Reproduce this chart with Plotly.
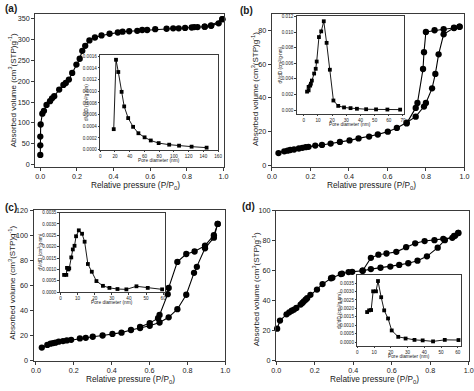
import plotly.graph_objects as go

W, H = 474, 391

# ---------------- data ----------------
# (a) main isotherm
a_ads_x = [0.0, 0.0, 0.0, 0.002, 0.011, 0.02, 0.034, 0.053, 0.064, 0.076, 0.103, 0.126, 0.139, 0.156, 0.174,
           0.197, 0.215, 0.229, 0.245, 0.268, 0.298, 0.334, 0.378, 0.423, 0.449, 0.485, 0.529, 0.556, 0.583,
           0.627, 0.689, 0.725, 0.755, 0.79, 0.826, 0.84, 0.858, 0.897, 0.932, 0.993]
a_ads_y = [23, 46, 67, 96, 122, 129, 143, 152, 159, 164, 180, 191, 196, 204, 220, 240, 254, 273, 285, 298,
           305, 310, 314, 317, 319, 320, 321, 323, 323, 325, 326, 327, 327, 328, 329, 330, 330, 331, 334, 349]
a_des_x = [0.993, 0.973, 0.932, 0.897]
a_des_y = [349, 339, 333, 331]
# (a) inset PSD
pa_x = [18.3, 21.4, 24.5, 29, 32.5, 37.9, 44.6, 51.8, 60.2, 68.6, 79.3, 93.6, 107, 124, 144.4]
pa_y = [0.00035, 0.00154, 0.00133, 0.00099, 0.00074, 0.00054, 0.00039, 0.00028, 0.00021, 0.000156,
        0.000111, 0.000084, 0.000067, 0.00005, 0.000033]

# (b) main isotherm
b_ads_x = [0.034, 0.064, 0.081, 0.095, 0.115, 0.14, 0.158, 0.175, 0.19, 0.225, 0.26, 0.305, 0.353, 0.403,
           0.45, 0.505, 0.55, 0.602, 0.649, 0.70, 0.747, 0.79, 0.80, 0.832, 0.849, 0.866, 0.892, 0.946, 0.975]
b_ads_y = [7.3, 8.3, 8.7, 9.1, 9.4, 10.0, 10.4, 10.8, 11.0, 11.7, 12.1, 12.9, 13.9, 14.8, 16.0, 17.1, 18.3,
           20.0, 22.2, 25.4, 28.9, 34.9, 37.0, 45.7, 54.3, 65.9, 77.8, 81.7, 82.3]
b_des_x = [0.975, 0.946, 0.892, 0.845, 0.80, 0.79, 0.785, 0.756, 0.747, 0.70]
b_des_y = [82.3, 81.5, 80.8, 80.2, 79.2, 67.2, 57.2, 37.0, 34.1, 24.9]
# (b) inset PSD
pb_x = [2.3, 3.4, 3.4, 4.5, 5, 5.7, 7.3, 8.4, 9.1, 10.7, 12.3, 14.1, 16.1, 18.4, 20.9, 24.3, 28.4, 33,
        37.5, 44, 51, 59, 68]
pb_y = [0.00236, 0.00252, 0.00297, 0.00313, 0.00338, 0.00378, 0.00468, 0.00529, 0.00622, 0.00936, 0.01009,
        0.01139, 0.00862, 0.00517, 0.00122, 0.00053, 0.00033, 0.00024, 0.00016, 0.0001, 0.00008, 0.00006,
        0.00005]

# (c) main isotherm
c_ads_x = [0.031, 0.06, 0.077, 0.091, 0.103, 0.12, 0.143, 0.163, 0.186, 0.232, 0.263, 0.30, 0.352, 0.404,
           0.452, 0.502, 0.55, 0.601, 0.653, 0.701, 0.747, 0.794, 0.835, 0.85, 0.893, 0.94, 0.96]
c_ads_y = [10.4, 12.5, 13.5, 14.0, 14.3, 15.1, 15.6, 16.1, 16.6, 17.7, 18.2, 19.0, 20.0, 21.3, 22.3, 24.4,
           26.0, 27.8, 30.4, 34.5, 41.0, 52.5, 70.0, 74.8, 89.6, 98.0, 109.0]
c_des_x = [0.96, 0.94, 0.893, 0.838, 0.794, 0.747, 0.701, 0.696, 0.653, 0.645, 0.601, 0.55]
c_des_y = [109.0, 100.0, 91.7, 87.0, 85.0, 78.7, 58.0, 53.0, 36.4, 33.8, 29.9, 26.8]
# (c) inset PSD
pc_x = [2.1, 3.4, 3.8, 4.6, 5.1, 6.3, 7.2, 8.2, 9.1, 10.7, 12.6, 14.1, 16, 18.3, 21, 24.8, 28.6, 33.3,
        38.5, 44.4, 51, 59.4]
pc_y = [0.00076, 0.00076, 0.00107, 0.00100, 0.00105, 0.00153, 0.00188, 0.00204, 0.00246, 0.00272, 0.00257,
        0.00222, 0.00124, 0.0009, 0.00049, 0.00028, 0.00019, 0.00014, 0.000125, 0.00026, 0.00019, 0.000125]

# (d) main isotherm
d_ads_x = [0.005, 0.02, 0.054, 0.068, 0.081, 0.093, 0.105, 0.127, 0.136, 0.144, 0.153, 0.161, 0.178, 0.212,
           0.241, 0.285, 0.292, 0.336, 0.342, 0.376, 0.395, 0.449, 0.492, 0.542, 0.593, 0.639, 0.686, 0.734,
           0.783, 0.839, 0.876, 0.924, 0.946]
d_ads_y = [21.3, 26.7, 30.9, 32.2, 33.3, 34.1, 35.2, 37.4, 38.5, 39.6, 40.7, 41.7, 43.9, 47.4, 51.1, 55.0,
           55.4, 57.8, 58.0, 59.1, 59.3, 60.0, 61.1, 62.0, 62.8, 63.9, 65.0, 66.7, 69.6, 75.4, 80.4, 83.3, 85.2]
d_des_x = [0.946, 0.929, 0.915, 0.868, 0.822, 0.771, 0.722, 0.675, 0.624, 0.573, 0.531, 0.492, 0.449]
d_des_y = [85.2, 83.3, 82.0, 81.3, 80.4, 79.8, 78.3, 75.7, 72.6, 71.5, 70.7, 68.6, 60.0]
# (d) inset PSD
pd_x = [5.8, 7, 8.2, 9.4, 11.1, 12.3, 14.2, 16, 18.3, 20.5, 24.4, 28.8, 34.1, 39, 45.2, 52.2, 60.4]
pd_y = [0.00178, 0.00188, 0.0019, 0.00301, 0.00301, 0.00362, 0.00266, 0.00188, 0.0014, 0.00069, 0.00031,
        0.00021, 0.00013, 0.0001, 0.00004, 0.00013, 0.00012]

# ---------------- styling helpers ----------------
FONT = "Liberation Sans, Arial, sans-serif"
INK = "#1a1a1a"
FRAME = "#3a3a3a"


def fx(px):
    return px / W


def fy(py):
    return 1 - py / H


fig = go.Figure()

layout = dict(
    width=W, height=H, margin=dict(l=0, r=0, t=0, b=0, pad=0),
    paper_bgcolor="white", plot_bgcolor="white", showlegend=False,
    font=dict(family=FONT, color=INK),
)


def add_axes(n, xdom, ydom, xrange, yrange, xdtick, ydtick, xfmt, yfmt, inset=False, ytickvals=None):
    sfx = "" if n == 1 else str(n)
    tick_font = 4.6 if inset else 7.2
    common = dict(showgrid=False, zeroline=False, showline=True, mirror=True,
                  linecolor=FRAME, linewidth=1 if inset else 1.3,
                  ticks="outside", ticklen=1.5 if inset else 3, tickwidth=0.8 if inset else 1,
                  tickcolor=FRAME, tickfont=dict(size=tick_font, family=FONT, color=INK))
    xa = dict(common, domain=[fx(xdom[0]), fx(xdom[1])], range=xrange, dtick=xdtick, tick0=0,
              tickformat=xfmt, anchor="y" + sfx)
    ya = dict(common, domain=[fy(ydom[1]), fy(ydom[0])], range=yrange, dtick=ydtick, tick0=0,
              tickformat=yfmt, anchor="x" + sfx)
    if ytickvals is not None:
        ya["tickmode"] = "array"
        ya["tickvals"] = ytickvals
        ya.pop("dtick")
    layout["xaxis" + sfx] = xa
    layout["yaxis" + sfx] = ya
    return "x" + sfx, "y" + sfx


def add_series(xs, ys, ax, inset=False):
    fig.add_trace(go.Scatter(
        x=xs, y=ys, xaxis=ax[0], yaxis=ax[1], mode="lines+markers",
        line=dict(color="black", width=0.9 if inset else 1.1),
        marker=dict(symbol="square" if inset else "circle", size=3.8 if inset else 6.3, color="black"),
        cliponaxis=False, hoverinfo="skip"))


# (a)
A = add_axes(1, (31, 223.3), (10, 166.4), [-0.027, 1.0], [-5, 362], 0.2, 50, ".1f", "d")
Ai = add_axes(2, (97.3, 217.7), (52.3, 149), [0, 160], [0, 0.00162], 20, 0.0002, "d", ".4f", inset=True)
# (b)
B = add_axes(3, (272.7, 469.3), (10, 166.5), [0, 1.0], [-0.8, 90], 0.2, 20, ".1f", "d")
Bi = add_axes(4, (298, 408), (12, 112.5), [-5, 71], [-0.0005, 0.0121], 10, 0.002, "d", ".3f", inset=True)
# (c)
C = add_axes(5, (29.3, 225), (211, 365), [-0.012, 1.0], [0, 120], 0.2, 20, ".1f", "d")
Ci = add_axes(6, (56, 163.3), (213.5, 295), [-0.4, 61], [0, 0.0035], 10, 0.0005, "d", ".4f", inset=True)
# (d)
D = add_axes(7, (277, 473.7), (211.7, 365), [0, 1.0], [0, 100], 0.2, 20, ".1f", "d")
Di = add_axes(8, (360, 466), (277, 350), [0, 62], [-0.00023, 0.0040], 10, None, "d", ".4f", inset=True,
              ytickvals=[0, 0.0005, 0.001, 0.0015, 0.002, 0.0025, 0.003, 0.0035])

for xs, ys in [(a_ads_x, a_ads_y), (a_des_x, a_des_y)]:
    add_series(xs, ys, A)
add_series(pa_x, pa_y, Ai, inset=True)
for xs, ys in [(b_ads_x, b_ads_y), (b_des_x, b_des_y)]:
    add_series(xs, ys, B)
add_series(pb_x, pb_y, Bi, inset=True)
for xs, ys in [(c_ads_x, c_ads_y), (c_des_x, c_des_y)]:
    add_series(xs, ys, C)
add_series(pc_x, pc_y, Ci, inset=True)
for xs, ys in [(d_ads_x, d_ads_y), (d_des_x, d_des_y)]:
    add_series(xs, ys, D)
add_series(pd_x, pd_y, Di, inset=True)

YT = "Absorbed volume (cm<sup>3</sup>(STP)g<sup>-1</sup>)"
XT = "Relative pressure (P/P<sub>0</sub>)"
IYT = "dV/dD (cm<sup>3</sup>/g·nm)"
IXT = "Pore diameter (nm)"

ann = []


def text(s, px, py, size, angle=0, bold=False, xanchor="center"):
    ann.append(dict(text=("<b>%s</b>" % s) if bold else s, x=fx(px), y=fy(py), xref="paper", yref="paper",
                    showarrow=False, textangle=angle, xanchor=xanchor, yanchor="middle",
                    font=dict(size=size, family=FONT, color=INK)))


# main titles
text(YT, 7.5, 88, 8, -90)
text(XT, 133, 185.8, 8.3)
text(YT, 255.5, 87, 8, -90)
text(XT, 374, 186, 8.3)
text(YT, 7.5, 285, 8, -90)
text(XT, 128, 384, 8.3)
text(YT, 256.5, 292, 8, -90)
text(XT, 377, 384.3, 8.3)
# inset titles
text(IYT, 83, 101, 4.6, -90)
text(IXT, 157, 160.5, 4.8)
text(IYT, 281, 63, 4.6, -90)
text(IXT, 352, 123.5, 4.8)
text(IYT, 36, 254, 4.6, -90)
text(IXT, 109.5, 306, 4.8)
text(IYT, 341.5, 314, 4.6, -90)
text(IXT, 413, 361, 4.8)
# panel labels
text("(a)", -2.5, 5, 10, bold=True, xanchor="left")
text("(b)", 246.5, 6.5, 10, bold=True)
text("(c)", 6.5, 208, 10, bold=True)
text("(d)", 249, 207, 10, bold=True)

layout["annotations"] = ann
fig.update_layout(**layout)
fig.write_html("out.html", config={"displayModeBar": False},
               post_script="document.body.style.margin='0';document.body.style.overflow='hidden';")
